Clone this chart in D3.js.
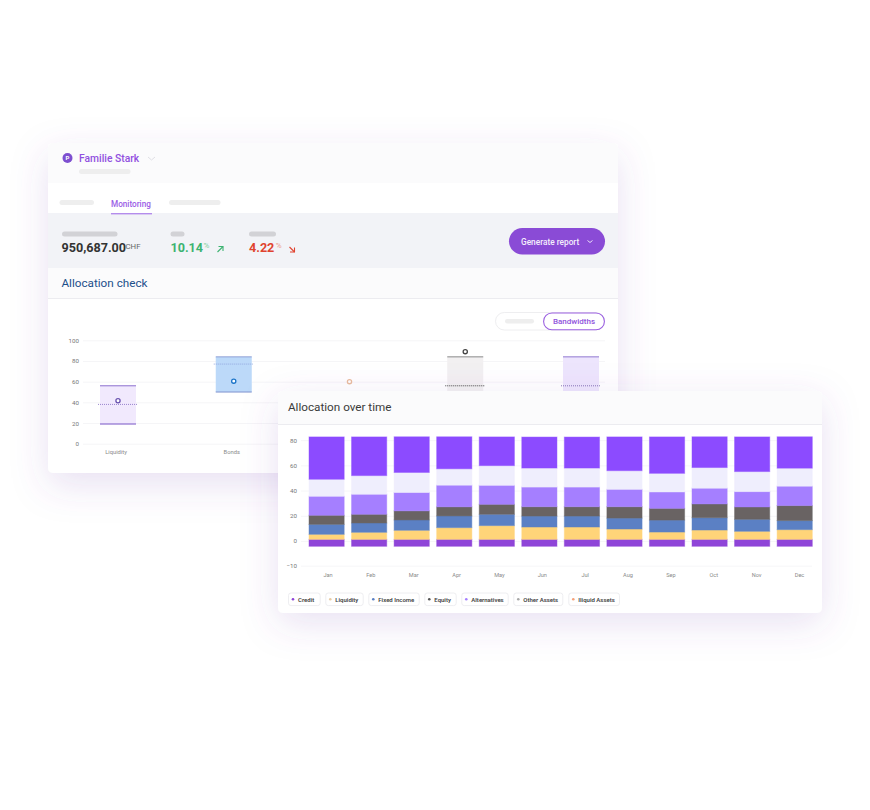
<!DOCTYPE html>
<html><head><meta charset="utf-8">
<script src="https://cdn.jsdelivr.net/npm/d3@7"></script>
<style>
html,body{margin:0;padding:0;background:#fff;overflow:hidden}
svg{display:block}
text{font-family:Roboto,"Noto Sans",sans-serif}
</style></head><body>
<script>
// ---- data ----
const allocCategories = ["Liquidity","Bonds","Equity","Alternatives","Other Assets"];
const allocLabels = ["Liquidity","Bonds"];
const allocTicks = [0,20,40,60,80,100];
const bandTop =    [56,84,null,84,84];
const bandBottom = [19,50,null,50,50];
const bandTarget = [38,77,null,56,56];
const bandActual = [41.5,60.5,60,89,null];

const months = ["Jan","Feb","Mar","Apr","May","Jun","Jul","Aug","Sep","Oct","Nov","Dec"];
const timeTicks = [-10,0,20,40,60,80];
const stackBase = -2.15;
const seriesBottom = [3.45,3.45,3.45,3.45,3.45,3.45,3.45,3.45,3.45,3.45,3.45,3.45];
const seriesYellow = [4.0,5.6,7.2,9.3,10.9,9.8,9.8,8.2,5.8,7.4,6.4,7.7];
const seriesBlue   = [7.9,7.4,8.2,9.3,9.0,8.7,8.7,8.7,9.5,9.8,9.5,7.2];
const seriesGrey   = [7.2,6.9,7.2,7.2,7.9,7.4,7.4,9.0,9.3,10.9,9.8,11.9];
const seriesLight  = [15.1,15.9,14.6,17.2,15.1,15.6,15.6,13.8,13.0,12.5,12.2,15.4];
const seriesPale   = [13.5,14.8,15.9,13.0,15.6,15.1,15.1,14.8,14.8,16.4,15.9,14.3];
const seriesTop    = [33.6,30.7,28.3,25.4,22.8,24.6,24.6,26.8,28.9,24.4,27.5,24.9];
const legendNames = ["Credit","Liquidity","Fixed Income","Equity","Alternatives","Other Assets","Iliquid Assets"];

// ---- styles ----
const bandFill = ["#f1e9fd","#bcd9f9","none","#f2f0f1","#ede5fd"];
const bandLine = ["#8c6fcf","#8fa0d6","none","#8a8a8a","#9078d0"];
const bandDash = ["#8f78c8","#8fa5e0","none","#333","#7a68b0"];
const bandDot  = ["#6a52b0","#1a73c8","#e8bc9c","#444","none"];
const stackColors = ["#8f45d8","#ffd479","#5b80c4","#696363","#a57fff","#efeefd","#8c4bff"];
const legendDots = ["#8f45d8","#e8cba4","#5b80c4","#555","#a57fff","#a8a8a8","#f5a27a"];
const legendX = [288,325.3,368.3,424.3,461.3,513.3,568.3];
const legendW = [32.7,38.4,51.4,32.4,47.4,50,51.7];
const SANS = '"Liberation Sans",Arial,sans-serif';

const svg = d3.select("body").append("svg").attr("width",870).attr("height",810);
const defs = svg.append("defs");
function shadow(id,sd,op,dy){
  const f = defs.append("filter").attr("id",id).attr("x","-30%").attr("y","-40%").attr("width","160%").attr("height","180%");
  f.append("feDropShadow").attr("dx",0).attr("dy",dy).attr("stdDeviation",sd).attr("flood-color","#7a4fb0").attr("flood-opacity",op);
}
shadow("s1",18,0.17,12);
shadow("s2",18,0.17,10);
defs.append("clipPath").attr("id","c1").append("rect").attr("x",48).attr("y",143).attr("width",570).attr("height",330).attr("rx",5);
defs.append("clipPath").attr("id","c2").append("rect").attr("x",278).attr("y",391).attr("width",544).attr("height",222).attr("rx",5);

function skel(g,x,y,w,h,c){g.append("rect").attr("x",x).attr("y",y).attr("width",w).attr("height",h).attr("rx",h/2).attr("fill",c||"#eeeeee");}
function txt(g,x,y,s,size,fill,weight,anchor){
  return g.append("text").attr("x",x).attr("y",y).text(s).attr("font-size",size).attr("fill",fill)
   .attr("font-weight",weight||400).attr("text-anchor",anchor||"start");
}
function poly(g,pts,c,w){g.append("path").attr("d",d3.line()(pts)).attr("fill","none").attr("stroke",c).attr("stroke-width",w||1);}

// ---- card 1 ----
svg.append("rect").attr("x",48).attr("y",143).attr("width",570).attr("height",330).attr("rx",5).attr("fill","#fff").attr("filter","url(#s1)");
const c1 = svg.append("g").attr("clip-path","url(#c1)");
c1.append("rect").attr("x",48).attr("y",143).attr("width",570).attr("height",40).attr("fill","#fbfbfc");
c1.append("rect").attr("x",48).attr("y",213).attr("width",570).attr("height",55).attr("fill","#f2f3f7");
c1.append("rect").attr("x",48).attr("y",268).attr("width",570).attr("height",30).attr("fill","#fbfbfc");
c1.append("rect").attr("x",48).attr("y",298).attr("width",570).attr("height",1).attr("fill","#ececf0");

c1.append("circle").attr("cx",67.5).attr("cy",158).attr("r",5).attr("fill","#7d4fd0");
txt(c1,67.5,160.2,"P",6,"#fff",700,"middle");
txt(c1,79,162,"Familie Stark",10.3,"#9150e0",500);
poly(c1,[[148,157],[151.5,160],[155,157]],"#d8d8de",0.8);
skel(c1,79,169,51.5,5);
skel(c1,59.5,200,34.5,5);
txt(c1,111,206.5,"Monitoring",8.2,"#9a5ce6",500);
c1.append("rect").attr("x",111).attr("y",213).attr("width",41).attr("height",1.4).attr("fill","#b48cec");
skel(c1,169,200,51.5,5);

skel(c1,62,231.5,55.5,5,"#d2d2d6");
txt(c1,61.5,251.5,"950,687.00",12.6,"#333",700).attr("font-family",SANS);
txt(c1,125.5,248.5,"CHF",7.8,"#666",400).attr("font-family",SANS);
skel(c1,170.5,231.5,14,5,"#d2d2d6");
txt(c1,170.5,251.5,"10.14",12.6,"#3cb371",700).attr("font-family",SANS);
txt(c1,203.5,248,"%",8,"#7fd0a0",400).attr("font-family",SANS);
poly(c1,[[217.5,252],[223,246.5]],"#3cb371",1.1);
poly(c1,[[218.5,246.5],[223,246.5],[223,251]],"#3cb371",1.1);
skel(c1,249,231.5,27,5,"#d2d2d6");
txt(c1,249,251.5,"4.22",12.6,"#e0432f",700).attr("font-family",SANS);
txt(c1,275.8,248,"%",8,"#ec9a8e",400).attr("font-family",SANS);
poly(c1,[[289.5,247],[294.5,252]],"#e0432f",1.1);
poly(c1,[[294.5,247.5],[294.5,252],[290,252]],"#e0432f",1.1);

c1.append("rect").attr("x",509).attr("y",228).attr("width",96).attr("height",26.5).attr("rx",13.25).attr("fill","#8a4bd6");
txt(c1,521,244.5,"Generate report",8.3,"#f4eefc",500);
poly(c1,[[587.5,240.5],[590,242.5],[592.5,240.5]],"#f4eefc",0.9);

txt(c1,61.5,287,"Allocation check",11.7,"#1c4f8a",400).attr("font-family",SANS);

c1.append("rect").attr("x",495.5).attr("y",312.5).attr("width",109).attr("height",17.5).attr("rx",8.75).attr("fill","#fff").attr("stroke","#eeeef0");
skel(c1,505,319,29,4.5,"#eeeeee");
c1.append("rect").attr("x",543.6).attr("y",313).attr("width",60.8).attr("height",16.8).attr("rx",8.4).attr("fill","#fff").attr("stroke","#9a5fe0").attr("stroke-width",1.1);
txt(c1,574,324.3,"Bandwidths",8,"#8f52dc",500,"middle");

const y1 = d3.scaleLinear().domain([0,100]).range([443.7,340.3]);
const x1 = d3.scalePoint().domain(allocCategories).range([118,581]);
const axis1 = d3.axisLeft(y1).tickValues(allocTicks).tickSize(-522).tickPadding(4);
const a1 = c1.append("g").attr("transform","translate(83,0)").call(axis1);
a1.select(".domain").remove();
a1.selectAll("line").attr("stroke","#f5f5f7");
a1.selectAll("text").attr("font-size",6.2).attr("fill","#777").attr("font-family",SANS);
const ax1 = c1.append("g").attr("transform","translate(-2.5,447)").call(d3.axisBottom(x1).tickValues(allocLabels).tickSize(0).tickPadding(3));
ax1.select(".domain").remove();
ax1.selectAll("text").attr("font-size",5.8).attr("fill","#8a8a8a").attr("font-family",SANS);

const W = 36;
const idx = allocCategories.map((d,i)=>i);
const boxed = idx.filter(i=>bandTop[i]!==null);
const gb = c1.append("g");
gb.selectAll("rect.b").data(boxed).join("rect").attr("class","b")
  .attr("x",i=>x1(allocCategories[i])-W/2).attr("width",W)
  .attr("y",i=>y1(bandTop[i])).attr("height",i=>y1(bandBottom[i])-y1(bandTop[i]))
  .attr("fill",i=>bandFill[i]);
gb.selectAll("line.t").data(boxed).join("line").attr("class","t")
  .attr("x1",i=>x1(allocCategories[i])-W/2).attr("x2",i=>x1(allocCategories[i])+W/2)
  .attr("y1",i=>y1(bandTop[i])).attr("y2",i=>y1(bandTop[i])).attr("stroke",i=>bandLine[i]).attr("stroke-width",1);
gb.selectAll("line.u").data(boxed).join("line").attr("class","u")
  .attr("x1",i=>x1(allocCategories[i])-W/2).attr("x2",i=>x1(allocCategories[i])+W/2)
  .attr("y1",i=>y1(bandBottom[i])).attr("y2",i=>y1(bandBottom[i])).attr("stroke",i=>bandLine[i]).attr("stroke-opacity",.8).attr("stroke-width",1.4);
gb.selectAll("line.d").data(boxed).join("line").attr("class","d")
  .attr("x1",i=>x1(allocCategories[i])-W/2-2).attr("x2",i=>x1(allocCategories[i])+W/2+2)
  .attr("y1",i=>y1(bandTarget[i])).attr("y2",i=>y1(bandTarget[i])).attr("stroke",i=>bandDash[i]).attr("stroke-width",.9).attr("stroke-dasharray","1 1");
gb.selectAll("circle").data(idx.filter(i=>bandActual[i]!==null)).join("circle")
  .attr("cx",i=>x1(allocCategories[i])).attr("cy",i=>y1(bandActual[i])).attr("r",2.1)
  .attr("fill","#fff").attr("stroke",i=>bandDot[i]).attr("stroke-width",1.3);

// ---- card 2 ----
svg.append("rect").attr("x",278).attr("y",391).attr("width",544).attr("height",222).attr("rx",5).attr("fill","#fff").attr("filter","url(#s2)");
const c2 = svg.append("g").attr("clip-path","url(#c2)");
c2.append("rect").attr("x",278).attr("y",391).attr("width",544).attr("height",33).attr("fill","#fbfbfc");
c2.append("rect").attr("x",278).attr("y",424).attr("width",544).attr("height",1).attr("fill","#ececf0");
txt(c2,288,411,"Allocation over time",11.7,"#3a3a3a",400).attr("font-family",SANS);

const y2 = d3.scaleLinear().domain([-10,0,80]).range([565.7,541,440.2]);
const x2 = d3.scaleBand().domain(months).range([309,812.3]).paddingInner(0.173).paddingOuter(0);
const xLabels = d3.scalePoint().domain(months).range([327.5,799]);
const a2 = c2.append("g").attr("transform","translate(301,0)").call(d3.axisLeft(y2).tickValues(timeTicks).tickSize(-511).tickPadding(4));
a2.select(".domain").remove();
a2.selectAll("line").attr("stroke","#f6f6f8");
a2.selectAll("text").attr("font-size",6.2).attr("fill","#777").attr("font-family",SANS);
const ax2 = c2.append("g").attr("transform","translate(0,572)").call(d3.axisBottom(xLabels).tickSize(0).tickPadding(1));
ax2.select(".domain").remove();
ax2.selectAll("text").attr("font-size",5.6).attr("fill","#8a8a8a").attr("font-family",SANS);

const table = months.map((m,i)=>({m,s0:seriesBottom[i],s1:seriesYellow[i],s2:seriesBlue[i],s3:seriesGrey[i],s4:seriesLight[i],s5:seriesPale[i],s6:seriesTop[i]}));
const stacked = d3.stack().keys(["s0","s1","s2","s3","s4","s5","s6"])(table);
c2.append("g").selectAll("g").data(stacked).join("g")
  .attr("fill",(d,i)=>stackColors[i]).attr("stroke",(d,i)=>stackColors[i]).attr("stroke-opacity",.45).attr("stroke-width",1)
  .selectAll("rect").data(d=>d).join("rect")
  .attr("x",d=>x2(d.data.m)).attr("width",x2.bandwidth())
  .attr("y",d=>y2(d[1]+stackBase)).attr("height",d=>y2(d[0]+stackBase)-y2(d[1]+stackBase));

const lg = c2.append("g").selectAll("g").data(legendNames).join("g").attr("transform",(d,i)=>`translate(${legendX[i]},592.5)`);
lg.append("rect").attr("x",0.5).attr("y",0.5).attr("width",(d,i)=>legendW[i]-1).attr("height",12.6).attr("rx",2.5).attr("fill","#fff").attr("stroke","#eeeef1");
lg.append("circle").attr("cx",5).attr("cy",6.8).attr("r",1.3).attr("fill",(d,i)=>legendDots[i]);
lg.append("text").attr("x",10).attr("y",9).text(d=>d).attr("font-size",6).attr("font-weight",600).attr("fill","#444").attr("font-family",'Inter,sans-serif');
</script>
</body></html>
